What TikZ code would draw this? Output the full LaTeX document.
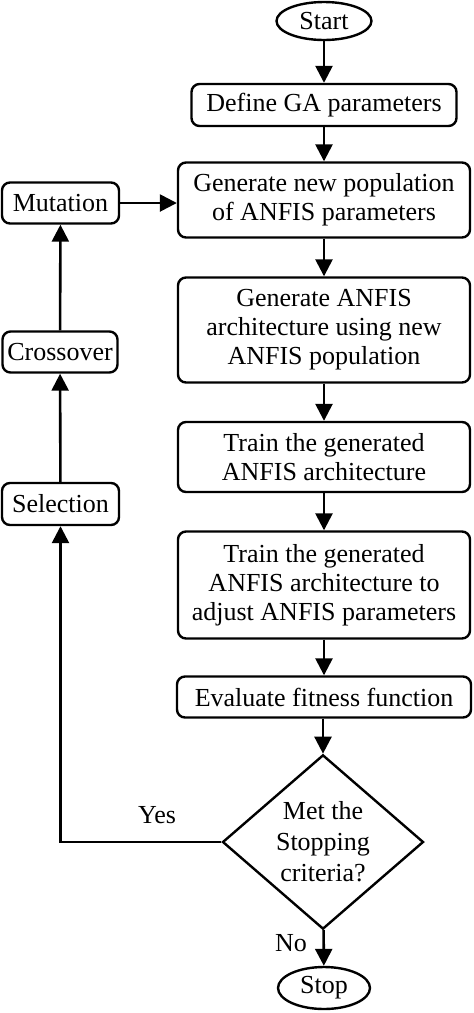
\documentclass[tikz,border=0pt]{standalone}
\usepackage{fontspec}
\setmainfont{Liberation Serif}
\usetikzlibrary{shapes.geometric,arrows.meta}
\begin{document}
\begin{tikzpicture}[x=1pt,y=1pt,
  every node/.style={font=\fontsize{26}{29}\selectfont},
  box/.style={draw,line width=2.4pt,rounded corners=8pt,align=center,inner sep=0pt,minimum width=292pt},
  term/.style={draw,ellipse,line width=2.4pt,inner sep=0pt},
  dec/.style={draw,diamond,line width=2.4pt,inner sep=0pt,align=center,minimum width=201pt,minimum height=173pt,font=\fontsize{26}{31}\selectfont},
  arr/.style={line width=2.6pt,-{Triangle[width=17pt,length=17pt]}},
  ln/.style={line width=2.6pt}]
\useasboundingbox (0,0) rectangle (474,-1013);
\node[term,minimum width=95pt,minimum height=38pt] (start) at (324,-21) {Start};
\node[box,minimum width=265pt,minimum height=42pt] (def) at (324,-105) {Define GA parameters};
\node[box,minimum height=75pt] (gen) at (324,-200) {Generate new population\\of ANFIS parameters};
\node[box,minimum height=105pt] (arch) at (324,-330) {Generate ANFIS\\architecture using new\\ANFIS population};
\node[box,minimum height=70pt] (train) at (324,-457) {Train the generated\\ANFIS architecture};
\node[box,minimum height=107pt] (adj) at (324,-585) {Train the generated\\ANFIS architecture to\\adjust ANFIS parameters};
\node[box,minimum width=294pt,minimum height=41pt] (eval) at (324,-697) {Evaluate fitness function};
\node[dec] (met) at (323,-842) {Met the\\Stopping\\criteria?};
\node[term,minimum width=92pt,minimum height=42pt] (stop) at (324,-988) {Stop};
\node[box,minimum width=117pt,minimum height=41pt] (mut) at (60.5,-203) {Mutation};
\node[box,minimum width=115pt,minimum height=41pt] (cross) at (60,-352) {Crossover};
\node[box,minimum width=117pt,minimum height=42pt] (sel) at (60.5,-504) {Selection};
\coordinate (corner) at (sel.south |- met.west);
\draw[arr] (start) -- (def);
\draw[arr] (def) -- (gen);
\draw[arr] (gen) -- (arch);
\draw[arr] (arch) -- (train);
\draw[arr] (train) -- (adj);
\draw[arr] (adj) -- (eval);
\draw[arr] (eval.south -| met.north) -- (met.north);
\draw[arr] (met) -- (stop);
\draw[arr] (met.west) -- (corner) -- (sel.south);
\draw[arr] (sel) -- (cross);
\draw[arr] (cross) -- (mut);
\draw[arr] (mut.east) -- (mut.east -| gen.west);
\node (yes) at (157,-815) {Yes};
\node (no) at (291,-943) {No};
\end{tikzpicture}
\end{document}
